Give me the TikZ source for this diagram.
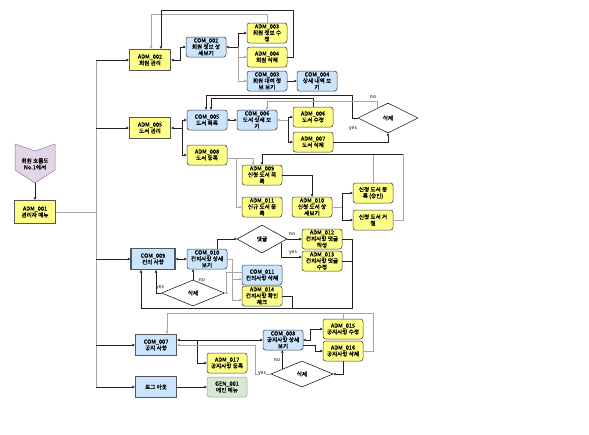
\documentclass[tikz,border=0pt]{standalone}
\usepackage{fontspec}
\setmainfont{Noto Sans CJK KR}[AutoFakeBold=1.3]
\usetikzlibrary{arrows.meta,shapes.geometric,calc}
\definecolor{yel}{HTML}{FFFF88}
\definecolor{blu}{HTML}{CCE5FF}
\definecolor{grn}{HTML}{D5E8D4}
\definecolor{grnb}{HTML}{82B366}
\definecolor{lav}{HTML}{E1D5E7}
\definecolor{lavb}{HTML}{9673A6}
\definecolor{bd}{HTML}{36393D}
\definecolor{dk}{HTML}{222222}
\definecolor{gr}{HTML}{A6A6A6}
\begin{document}
\begin{tikzpicture}[x=1pt,y=-1pt,
  box/.style={rectangle,rounded corners=2.5pt,draw=bd,line width=0.5pt,minimum width=40pt,minimum height=20pt,inner sep=0pt,align=center,font=\fontsize{5.6}{6.4}\selectfont\bfseries},
  ybox/.style={box,fill=yel},
  bbox/.style={box,fill=blu},
  gbox/.style={box,fill=grn,draw=grnb},
  tybox/.style={ybox,rounded corners=0pt,line width=1.3pt,draw=bd!85,minimum width=41pt,minimum height=21pt},
  tbbox/.style={bbox,rounded corners=0pt,line width=1.3pt,draw=bd!85,minimum width=41pt,minimum height=21pt},
  dia/.style={diamond,draw=black,fill=white,line width=0.5pt,inner sep=0pt,font=\fontsize{5.6}{6}\selectfont\bfseries},
  lbl/.style={font=\fontsize{5}{5}\selectfont,inner sep=0.5pt},
  dl/.style={draw=dk,line width=0.6pt},
  gl/.style={draw=gr,line width=0.6pt},
  arr/.style={-{Triangle[length=2.4pt,width=2.4pt]}},
  barr/.style={{Triangle[length=2.4pt,width=2.4pt]}-{Triangle[length=2.4pt,width=2.4pt]}},
  rarr/.style={{Triangle[length=2.4pt,width=2.4pt]}-},
]
\useasboundingbox (0,0) rectangle (589,434);

% source connector
\draw[draw=lavb,fill=lav,line width=0.5pt] (15,144) -- (35,151) -- (55,144) -- (55,170) -- (35,183) -- (15,170) -- cycle;
\node[font=\fontsize{5.6}{6.4}\selectfont\bfseries,align=center] (src) at (35,164) {회원 흐름도\\No.1에서};
\coordinate (srcb) at (35,183);

% main nodes
\node[tybox,minimum height=23pt] (adm001) at (35,212) {ADM\_001\\관리자 메뉴};
\node[tybox] (adm002) at (150,60) {ADM\_002\\회원 관리};
\node[tybox] (adm005) at (150,128) {ADM\_005\\도서 관리};
\node[tbbox,minimum width=44pt] (com009) at (153,259) {COM\_009\\건의 사항};
\node[tbbox] (com007) at (156,345) {COM\_007\\공지 사항};
\node[tbbox] (logout) at (156,387) {로그 아웃};

% member
\node[bbox] (com002) at (206,47) {COM\_002\\회원 정보 상\\세보기};
\node[ybox] (adm003) at (267,33) {ADM\_003\\회원 정보 수\\정};
\node[ybox] (adm004) at (267,57) {ADM\_004\\회원 삭제};
\node[bbox] (com003) at (267,81) {COM\_003\\회원 대여 정\\보 보기};
\node[bbox] (com004) at (317,81) {COM\_004\\상세 내역 보\\기};

% books
\node[bbox] (com005) at (207,120) {COM\_005\\도서 목록};
\node[bbox] (com006) at (257,120) {COM\_006\\도서 상세 보\\기};
\node[ybox] (adm006) at (313,117) {ADM\_006\\도서 수정};
\node[ybox] (adm007) at (313,142) {ADM\_007\\도서 삭제};
\node[dia,minimum width=60pt,minimum height=30pt] (del1) at (388,118) {삭제};
\node[ybox] (adm008) at (207,155) {ADM\_008\\도서 등록};
\node[ybox] (adm009) at (262,175) {ADM\_009\\신청 도서 목\\록};
\node[ybox] (adm011) at (262,207) {ADM\_011\\신규 도서 등\\록};
\node[ybox] (adm010) at (312,207) {ADM\_010\\신청 도서 상\\세보기};
\node[ybox] (reqok) at (373,193) {신청 도서 등\\록 (승인)};
\node[ybox] (reqno) at (373,220) {신청 도서 거\\절};

% suggestions
\node[bbox] (com010) at (207,259) {COM\_010\\건의사항 상세\\보기};
\node[dia,minimum width=50pt,minimum height=28pt] (dia2) at (262,239) {댓글};
\node[ybox] (adm012) at (322,239) {ADM\_012\\건의사항 댓글\\작성};
\node[ybox] (adm013) at (322,261) {ADM\_013\\건의사항 댓글\\수정};
\node[bbox] (com011) at (262,275) {COM\_011\\건의사항 삭제};
\node[ybox] (adm014) at (262,296) {ADM\_014\\건의사항 확인\\체크};
\node[dia,minimum width=63pt,minimum height=26pt] (del2) at (193,293) {삭제};

% notices
\node[bbox] (com008) at (283,340) {COM\_008\\공지사항 상세\\보기};
\node[ybox] (adm015) at (343,329) {ADM\_015\\공지사항 수정};
\node[ybox] (adm016) at (343,351) {ADM\_016\\공지사항 삭제};
\node[ybox] (adm017) at (227,363) {ADM\_017\\공지사항 등록};
\node[gbox] (gen001) at (227,387) {GEN\_001\\메인 메뉴};
\node[dia,minimum width=62pt,minimum height=26pt] (del3) at (302,374) {삭제};

% ---- connectors ----
\draw[dl,arr] (srcb) -- (adm001.north);
\coordinate (bus) at (96,212);
\draw[gl] (adm001.east) -- (bus);
\draw[gl] (bus |- adm002) -- (bus |- logout);
\draw[dl,arr] (bus |- adm002) -- (adm002.west);
\draw[dl,arr] (bus |- adm005) -- (adm005.west);
\draw[dl,arr] (bus |- com009) -- (com009.west);
\draw[dl,arr] (bus |- com007) -- (com007.west);
\draw[dl,arr] (bus |- logout) -- (logout.west);

% member
\draw[dl,barr] (adm002.east) -- ++(9,0) |- (com002.west);
\coordinate (j2) at ($(com002.east)+(12,0)$);
\draw[dl,barr] (com002.east) -- (j2) |- (adm003.west);
\draw[gl,arr] (j2) |- (adm004.west);
\draw[gl,arr] (j2) |- (com003.west);
\draw[dl,arr] (com003) -- (com004);
\draw[gl,arr] (adm003.north) -- ++(0,-8) -| ([xshift=1pt]adm002.north);
\coordinate (t10) at (293,10);
\draw[dl,arr] (adm004.east) -| (t10) -| ([xshift=11pt]adm002.north);

% books
\coordinate (j5) at ($(adm005.east)+(11,0)$);
\draw[dl,rarr] (adm005.east) -- (j5);
\draw[dl,arr] (j5) |- (com005.west);
\draw[dl,arr] (j5) |- (adm008.west);
\draw[dl,barr] (com005) -- (com006);
\coordinate (j6) at ($(com006.east)+(11,0)$);
\draw[gl,rarr] (com006.east) -- (j6);
\draw[dl,arr] (j6) |- (adm006.west);
\draw[dl,arr] (j6) |- (adm007.west);
\draw[dl,arr] (adm006.north) -- ++(0,-8) -| ([xshift=4pt]com005.north);
\coordinate (y95) at (352,95);
\draw[dl,arr] (del1.west) -| (y95) -| ([xshift=-1pt]com005.north);
\coordinate (n1) at ($(del1.west)!0.63!(del1.north)$);
\draw[gl,arr] (n1) -- ++(0,-7.5) -| ([xshift=10pt]com006.north);
\node[lbl] (no1) at (373,97) {no};
\node[lbl] (yes1) at (353,129) {yes};
\draw[dl,arr] (adm007.east) -| (del1.south);
\draw[gl,arr] ([yshift=-3pt]adm008.east) -| ([xshift=-9pt]adm009.north);
\draw[gl,arr] ([yshift=-3pt]adm008.east) -- ++(9,0) |- (adm011.west);
\coordinate (r154) at (403,154);
\draw[gl] (reqok.north) -- (reqok.north |- r154);
\draw[gl] (reqno.east) -| (r154);
\draw[dl,arr] (r154) -| (adm009.north);
\draw[dl,arr] (adm009.east) -| (adm010.north);
\coordinate (j10) at ($(adm010.east)+(10,0)$);
\draw[gl] (adm010.east) -- (j10);
\draw[dl,arr] (j10) |- (reqok.west);
\draw[dl,arr] (j10) |- (reqno.west);

% suggestions
\draw[dl,barr] (com009) -- (com010);
\draw[dl,arr] ([xshift=10pt]com010.north) |- (dia2.west);
\draw[dl,arr] (dia2.east) -- (adm012.west);
\node[lbl] (no2) at (292,234) {no};
\coordinate (n2) at ($(dia2.east)!0.25!(dia2.south)$);
\draw[dl,arr] (n2) |- ([yshift=4pt]adm013.west);
\node[lbl] (yes2) at (293,253) {yes};
\coordinate (j10b) at ($(com010.east)+(5,0)$);
\draw[gl] (com010.east) -- (j10b);
\draw[gl,arr] (j10b) |- ([yshift=-4pt]com011.west);
\draw[gl,arr] (j10b) |- ([yshift=-4pt]adm014.west);
\draw[gl,arr] ([yshift=3pt]com011.west) -- ++(-15,0) |- (del2.east);
\draw[dl,arr] (del2.north) -- (del2.north |- com010.south);
\node[lbl] (no3) at (202,280) {no};
\draw[dl,arr] (del2.west) -| ([xshift=3pt]com009.south);
\node[lbl] (yes3) at (160,288) {yes};
\coordinate (r308) at (352,308);
\draw[dl,arr] (adm012.east) -| (r308) -| ([xshift=-12pt]com009.south);
\draw[dl] (adm013.east) -- (adm013.east -| r308);
\draw[dl] (adm014.east) -- ++(10,0) -- ++(0,12);

% notices
\coordinate (c7) at (com007.east |- com008.west);
\draw[dl,barr] (c7) -- (com008.west);
\draw[dl,arr] ($(c7)+(20,0)$) |- (adm017.west);
\draw[gl,arr] (del3.west) -- ++(-15,0) |- (com007.east);
\node[lbl,fill=white] (yes4) at (262,374) {yes};
\coordinate (n3) at ($(del3.west)!0.37!(del3.north)$);
\draw[dl,arr] (n3) -- (n3 |- com008.south);
\node[lbl] (no4) at (277,360) {no};
\draw[dl,barr] (com008.east) -- ++(7,0) |- (adm015.west);
\draw[dl,arr] ([yshift=-5pt]com008.east) -- ++(12,0) |- (adm016.west);
\draw[dl,arr] (adm016.south) |- (del3.east);
\coordinate (r313) at (373,313);
\draw[gl] (adm015.north) -- (adm015.north |- r313);
\draw[gl,arr] (adm016.east) -| (r313) -| ([xshift=11pt]com007.north);
\draw[dl,arr] (logout) -- (gen001);
\end{tikzpicture}
\end{document}
